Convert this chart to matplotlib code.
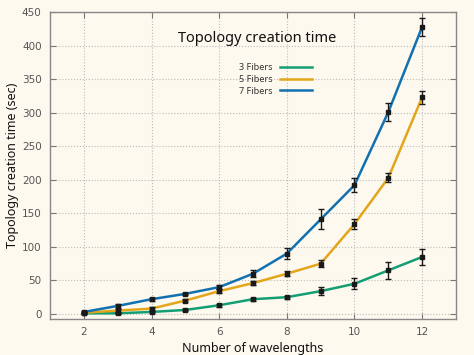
import matplotlib.pyplot as plt

wavelengths = [2, 3, 4, 5, 6, 7, 8, 9, 10, 11, 12]

fib3 = [1, 1, 3, 6, 13, 22, 25, 34, 45, 65, 85]
fib3_err = [1, 1, 1, 1, 2, 2, 2, 6, 8, 13, 12]

fib5 = [2, 5, 8, 20, 34, 46, 60, 75, 134, 203, 323]
fib5_err = [1, 2, 2, 2, 3, 3, 4, 5, 7, 7, 10]

fib7 = [3, 12, 22, 30, 40, 60, 90, 141, 192, 301, 428]
fib7_err = [2, 3, 2, 2, 3, 5, 8, 15, 10, 14, 13]

series = [
    ('3 Fibers', fib3, fib3_err, '#139e73'),
    ('5 Fibers', fib5, fib5_err, '#e3a61a'),
    ('7 Fibers', fib7, fib7_err, '#1171b0'),
]

bg = '#fdf9ef'
fig = plt.figure(figsize=(4.74, 3.55), dpi=100, facecolor=bg)
ax = fig.add_axes([0.1055, 0.1014, 0.8565, 0.8646], facecolor=bg)

for label, vals, errs, color in series:
    ax.plot(wavelengths, vals, color=color, lw=1.8, label=label, zorder=2)
    ax.errorbar(wavelengths, vals, yerr=errs, fmt='s', ms=3, color='#1a1a1a',
                ecolor='#1a1a1a', elinewidth=1.0, capsize=2.5, capthick=1.0, zorder=3)

ax.set_xlim(1, 13)
ax.set_ylim(-7.5, 450)
ax.set_xticks([2, 4, 6, 8, 10, 12])
ax.set_yticks(range(0, 451, 50))
ax.tick_params(direction='in', length=4, width=0.8, color='#777777',
               labelsize=7.5, labelcolor='#555555', top=True, right=True,
               labeltop=False, labelright=False, pad=6)
ax.grid(True, linestyle=':', color='#bbbbbb', lw=0.8)
for s in ax.spines.values():
    s.set_color('#888888')
    s.set_linewidth(1.0)

ax.set_xlabel('Number of wavelengths', fontsize=9, family='Noto Sans', color='#111111', labelpad=3)
ax.set_ylabel('Topology creation time (sec)', fontsize=9, family='Noto Sans', color='#111111', labelpad=2)
ax.text(0.51, 0.913, 'Topology creation time', transform=ax.transAxes, ha='center',
        va='center', fontsize=10.5, family='Noto Sans', color='#111111')

leg = ax.legend(loc='upper left', bbox_to_anchor=(0.445, 0.86), frameon=False,
                markerfirst=False, handlelength=3.6, labelspacing=0.3,
                prop={'family': 'Noto Sans', 'size': 6.5})
for t in leg.get_texts():
    t.set_color('#333333')

fig.savefig('out.png', dpi=100, facecolor=bg)
